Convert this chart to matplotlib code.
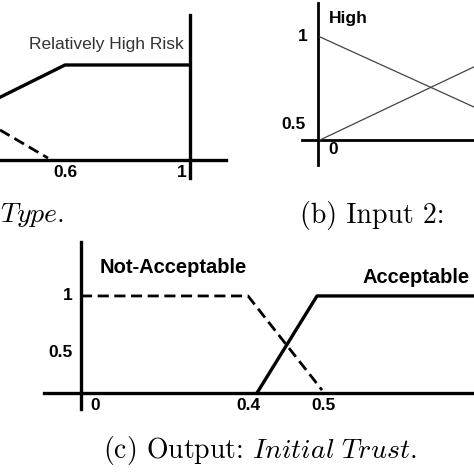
import matplotlib
matplotlib.use("Agg")
import matplotlib.pyplot as plt

plt.rcParams['mathtext.fontset'] = 'cm'

# Panel (a): Input 1 (partially visible)
a_high_x = [0, 65, 190]
a_high_y = [0.66, 1.0, 1.0]
a_low_x = [0, 48]
a_low_y = [0.316, 0.02]
a_ticks = [(65, "0.6"), (182, "1")]

# Panel (b): Input 2
b_high_x = [0, 154]
b_high_y = [1.0, 0.32]
b_low_x = [0, 154]
b_low_y = [0.0, 0.71]

# Panel (c): Output
c_na_x = [0, 167, 241]
c_na_y = [1.0, 1.0, 0.03]
c_acc_x = [176, 236, 393]
c_acc_y = [0.0, 1.0, 1.0]
c_xticks = [(14, "0"), (167, "0.4"), (242, "0.5")]
c_yticks = [(1.0, "1"), (0.42, "0.5")]

fig = plt.figure(figsize=(4.74, 4.74), dpi=100)
bold = dict(family='Liberation Sans', fontweight='bold', fontsize=12.5)

def mk(xl, yl):
    ax = fig.add_axes([0, 0, 1, 1])
    ax.set_xlim(*xl); ax.set_ylim(*yl)
    ax.axis('off'); ax.patch.set_alpha(0)
    return ax

# (a)
ax = mk((0, 474), (-3.305, 1.684))
ax.plot([0, 226], [0, 0], color='black', lw=2.4)
ax.plot([190, 190], [-0.19, 1.526], color='black', lw=2.4)
ax.plot(a_high_x, a_high_y, color='black', lw=2.4)
ax.plot(a_low_x, a_low_y, color='black', lw=2.0, dashes=(4, 2))
for x, t in a_ticks:
    ax.text(x, -0.13, t, ha='center', va='center', **bold)
ax.text(106, 1.22, "Relatively High Risk", ha='center', va='center',
        family='Liberation Sans', fontsize=12.5, color='#333333')
ax.text(0, -0.58, r"$\mathit{Type}$.", ha='left', va='center', fontsize=20, family='cmr10')

# (b)
ax = mk((-320, 154), (-3.243, 1.359))
ax.plot([-18, 154], [0, 0], color='black', lw=2.0)
ax.plot([-2, -2], [-0.24, 1.33], color='black', lw=2.0)
ax.plot(b_high_x, b_high_y, color='#444444', lw=0.9)
ax.plot(b_low_x, b_low_y, color='#444444', lw=0.9)
ax.text(-17, 1.0, "1", ha='center', va='center', **bold)
ax.text(-26, 0.15, "0.5", ha='center', va='center', **bold)
ax.text(13, -0.09, "0", ha='center', va='center', **bold)
ax.text(9, 1.18, "High", ha='left', va='center', **bold)
ax.text(-20, -0.73, "(b) Input 2:", ha='left', va='center', fontsize=20, family='cmr10')

# (c)
ax = mk((-81, 393), (-0.835, 4.05))
ax.plot([-37, 393], [0, 0], color='black', lw=2.4)
ax.plot([0, 0], [-0.16, 1.56], color='black', lw=2.4)
ax.plot(c_na_x, c_na_y, color='black', lw=2.0, dashes=(4, 2))
ax.plot(c_acc_x, c_acc_y, color='black', lw=2.4)
for x, t in c_xticks:
    ax.text(x, -0.13, t, ha='center', va='center', **bold)
for y, t in c_yticks:
    ax.text(-8, y, t, ha='right', va='center', **bold)
ax.text(19, 1.29, "Not-Acceptable", ha='left', va='center', fontsize=14.5,
        family='Liberation Sans', fontweight='bold')
ax.text(282, 1.19, "Acceptable", ha='left', va='center', fontsize=14.5,
        family='Liberation Sans', fontweight='bold')
ax.text(179, -0.59, r"(c) Output: $\mathit{Initial\ Trust}$.", ha='center', va='center',
        fontsize=20, family='cmr10')

fig.savefig("out.png", dpi=100)
